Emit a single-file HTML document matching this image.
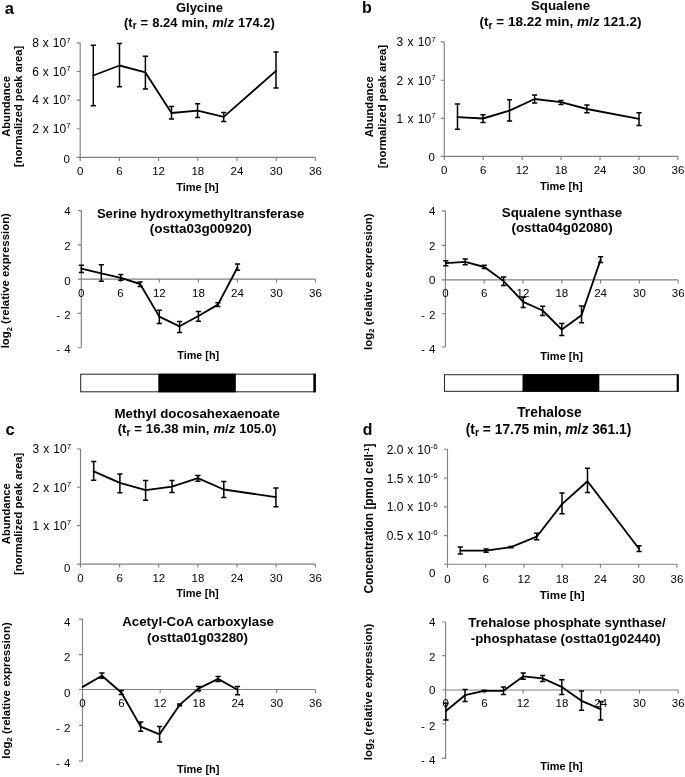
<!DOCTYPE html>
<html lang="en">
<head>
<meta charset="utf-8">
<title>Figure</title>
<style>
html,body{margin:0;padding:0;background:#fff;}
body{width:685px;height:777px;overflow:hidden;}
svg{display:block;filter:blur(0.35px);}
svg text{font-family:"Liberation Sans", Arial, sans-serif;fill:#000;}
</style>
</head>
<body>
<svg width="685" height="777" viewBox="0 0 685 777">
<rect width="685" height="777" fill="#fff"/>
<text x="4.8" y="13.8" font-size="16.5" font-weight="bold" text-anchor="start">a</text>
<text x="361.9" y="13.4" font-size="16" font-weight="bold" text-anchor="start">b</text>
<text x="5.4" y="434.8" font-size="16.5" font-weight="bold" text-anchor="start">c</text>
<text x="362.8" y="434.6" font-size="15.8" font-weight="bold" text-anchor="start">d</text>
<path d="M80.2 42.9V157.4M80.2 157.4H315.4M76.7 157.4H80.2M76.7 128.7H80.2M76.7 100.1H80.2M76.7 71.5H80.2M76.7 42.9H80.2M80.2 157.4V160.9M119.4 157.4V160.9M158.6 157.4V160.9M197.8 157.4V160.9M237 157.4V160.9M276.2 157.4V160.9M315.4 157.4V160.9" fill="none" stroke="#808080" stroke-width="1.15"/>
<text x="70.6" y="133" font-size="12" font-weight="normal" text-anchor="end" word-spacing="0.6">2 x 10<tspan font-size="8" dy="-4.6">7</tspan></text>
<text x="70.6" y="104.4" font-size="12" font-weight="normal" text-anchor="end" word-spacing="0.6">4 x 10<tspan font-size="8" dy="-4.6">7</tspan></text>
<text x="70.6" y="75.8" font-size="12" font-weight="normal" text-anchor="end" word-spacing="0.6">6 x 10<tspan font-size="8" dy="-4.6">7</tspan></text>
<text x="70.6" y="47.2" font-size="12" font-weight="normal" text-anchor="end" word-spacing="0.6">8 x 10<tspan font-size="8" dy="-4.6">7</tspan></text>
<text x="70" y="162.5" font-size="11.5" font-weight="normal" text-anchor="end">0</text>
<text x="80.2" y="175.2" font-size="11.5" font-weight="normal" text-anchor="middle">0</text>
<text x="119.4" y="175.2" font-size="11.5" font-weight="normal" text-anchor="middle">6</text>
<text x="158.6" y="175.2" font-size="11.5" font-weight="normal" text-anchor="middle">12</text>
<text x="197.8" y="175.2" font-size="11.5" font-weight="normal" text-anchor="middle">18</text>
<text x="237" y="175.2" font-size="11.5" font-weight="normal" text-anchor="middle">24</text>
<text x="276.2" y="175.2" font-size="11.5" font-weight="normal" text-anchor="middle">30</text>
<text x="315.4" y="175.2" font-size="11.5" font-weight="normal" text-anchor="middle">36</text>
<text x="197.5" y="190.8" font-size="11" font-weight="bold" text-anchor="middle">Time [h]</text>
<text x="199.4" y="11.7" font-size="13" font-weight="bold" text-anchor="middle">Glycine</text>
<text x="199.4" y="26.8" font-size="13" font-weight="bold" text-anchor="middle" word-spacing="0.4">(t<tspan font-size="10.0" dy="2.6">r</tspan><tspan dy="-2.6">&#8203;</tspan> = 8.24 min, <tspan font-style="italic">m</tspan>/<tspan font-style="italic">z</tspan> 174.2)</text>
<text transform="translate(10 106.4) rotate(-90)" font-size="11.2" font-weight="bold" text-anchor="middle">Abundance</text>
<text transform="translate(22 106.4) rotate(-90)" font-size="11.2" font-weight="bold" text-anchor="middle">[normalized peak area]</text>
<path d="M93.3 75.5 L119.5 65.5 L145.4 72.4 L171.5 113 L197.6 110.6 L223.7 116.9 L276 70.9" fill="none" stroke="#000" stroke-width="1.85" stroke-linejoin="round" stroke-linecap="round"/>
<path d="M93.3 45.2V105.8M90.7 45.2H95.9M90.7 105.8H95.9M119.5 43.5V86.7M116.9 43.5H122.1M116.9 86.7H122.1M145.4 56.3V89M142.8 56.3H148M142.8 89H148M171.5 106.5V119M168.9 106.5H174.1M168.9 119H174.1M197.6 103.8V117.5M195 103.8H200.2M195 117.5H200.2M223.7 112.4V121.4M221.1 112.4H226.3M221.1 121.4H226.3M276 52.1V88M273.4 52.1H278.6M273.4 88H278.6" fill="none" stroke="#000" stroke-width="1.5"/>
<path d="M444.3 41.9V156.4M444.3 156.4H677.9M440.8 156.4H444.3M440.8 118.4H444.3M440.8 80.2H444.3M440.8 41.9H444.3M444.3 156.4V159.9M483.23 156.4V159.9M522.17 156.4V159.9M561.1 156.4V159.9M600.03 156.4V159.9M638.97 156.4V159.9M677.9 156.4V159.9" fill="none" stroke="#808080" stroke-width="1.15"/>
<text x="435.7" y="122.7" font-size="12" font-weight="normal" text-anchor="end" word-spacing="1.0">1 x 10<tspan font-size="8" dy="-4.6">7</tspan></text>
<text x="435.7" y="84.5" font-size="12" font-weight="normal" text-anchor="end" word-spacing="1.0">2 x 10<tspan font-size="8" dy="-4.6">7</tspan></text>
<text x="435.7" y="46.2" font-size="12" font-weight="normal" text-anchor="end" word-spacing="1.0">3 x 10<tspan font-size="8" dy="-4.6">7</tspan></text>
<text x="434.9" y="161.4" font-size="11.5" font-weight="normal" text-anchor="end">0</text>
<text x="444.3" y="174.3" font-size="11.5" font-weight="normal" text-anchor="middle">0</text>
<text x="483.23" y="174.3" font-size="11.5" font-weight="normal" text-anchor="middle">6</text>
<text x="522.17" y="174.3" font-size="11.5" font-weight="normal" text-anchor="middle">12</text>
<text x="561.1" y="174.3" font-size="11.5" font-weight="normal" text-anchor="middle">18</text>
<text x="600.03" y="174.3" font-size="11.5" font-weight="normal" text-anchor="middle">24</text>
<text x="638.97" y="174.3" font-size="11.5" font-weight="normal" text-anchor="middle">30</text>
<text x="677.9" y="174.3" font-size="11.5" font-weight="normal" text-anchor="middle">36</text>
<text x="561.3" y="190.1" font-size="11" font-weight="bold" text-anchor="middle">Time [h]</text>
<text x="560.5" y="10.4" font-size="13.3" font-weight="bold" text-anchor="middle">Squalene</text>
<text x="560.5" y="26.2" font-size="13.5" font-weight="bold" text-anchor="middle">(t<tspan font-size="10.4" dy="2.6">r</tspan><tspan dy="-2.6">&#8203;</tspan> = 18.22 min, <tspan font-style="italic">m</tspan>/<tspan font-style="italic">z</tspan> 121.2)</text>
<text transform="translate(372.9 106.8) rotate(-90)" font-size="11.2" font-weight="bold" text-anchor="middle">Abundance</text>
<text transform="translate(385.5 106.6) rotate(-90)" font-size="11.4" font-weight="bold" text-anchor="middle">[normalized peak area]</text>
<path d="M457.5 117.1 L483 118.5 L509.5 110.7 L534.6 99 L561 102.2 L586.9 109 L639 118.8" fill="none" stroke="#000" stroke-width="1.85" stroke-linejoin="round" stroke-linecap="round"/>
<path d="M457.5 103.9V129.3M454.9 103.9H460.1M454.9 129.3H460.1M483 114.7V122.4M480.4 114.7H485.6M480.4 122.4H485.6M509.5 99.8V120.9M506.9 99.8H512.1M506.9 120.9H512.1M534.6 94.9V102.9M532 94.9H537.2M532 102.9H537.2M561 100.4V104.5M558.4 100.4H563.6M558.4 104.5H563.6M586.9 104.9V112.7M584.3 104.9H589.5M584.3 112.7H589.5M639 112.7V125.4M636.4 112.7H641.6M636.4 125.4H641.6" fill="none" stroke="#000" stroke-width="1.5"/>
<path d="M81.3 210.6V347.7M81.3 279.1H315.5M77.8 210.6H81.3M77.8 244.9H81.3M77.8 279.1H81.3M77.8 313.4H81.3M77.8 347.7H81.3M81.3 279.1V282.6M120.33 279.1V282.6M159.37 279.1V282.6M198.4 279.1V282.6M237.43 279.1V282.6M276.47 279.1V282.6M315.5 279.1V282.6" fill="none" stroke="#808080" stroke-width="1.15"/>
<text x="70.6" y="214.8" font-size="11.5" font-weight="normal" text-anchor="end" word-spacing="1.0">4</text>
<text x="70.6" y="249.7" font-size="11.5" font-weight="normal" text-anchor="end" word-spacing="1.0">2</text>
<text x="70.6" y="284.5" font-size="11.5" font-weight="normal" text-anchor="end" word-spacing="1.0">0</text>
<text x="70.6" y="318.7" font-size="11.5" font-weight="normal" text-anchor="end" word-spacing="1.0">- 2</text>
<text x="70.6" y="353" font-size="11.5" font-weight="normal" text-anchor="end" word-spacing="1.0">- 4</text>
<text x="81.3" y="296.6" font-size="11.5" font-weight="normal" text-anchor="middle">0</text>
<text x="120.33" y="296.6" font-size="11.5" font-weight="normal" text-anchor="middle">6</text>
<text x="159.37" y="296.6" font-size="11.5" font-weight="normal" text-anchor="middle">12</text>
<text x="198.4" y="296.6" font-size="11.5" font-weight="normal" text-anchor="middle">18</text>
<text x="237.43" y="296.6" font-size="11.5" font-weight="normal" text-anchor="middle">24</text>
<text x="276.47" y="296.6" font-size="11.5" font-weight="normal" text-anchor="middle">30</text>
<text x="315.5" y="296.6" font-size="11.5" font-weight="normal" text-anchor="middle">36</text>
<text x="198.2" y="359.3" font-size="10.8" font-weight="bold" text-anchor="middle">Time [h]</text>
<text x="200.6" y="217.9" font-size="13.1" font-weight="bold" text-anchor="middle">Serine hydroxymethyltransferase</text>
<text x="200.8" y="233" font-size="13.5" font-weight="bold" text-anchor="middle">(ostta03g00920)</text>
<text transform="translate(9.3 280.7) rotate(-90)" font-size="11.4" font-weight="bold" text-anchor="middle">log<tspan font-size="7.5" dy="2.5">2</tspan><tspan dy="-2.5">&#8203;</tspan> (relative expression)</text>
<path d="M81.4 268.7 L101.3 273.3 L120.8 277.8 L140.1 284 L159.3 316.6 L179.6 326.3 L198.4 316 L217.9 304.6 L237.5 267.5" fill="none" stroke="#000" stroke-width="1.85" stroke-linejoin="round" stroke-linecap="round"/>
<path d="M81.4 265.2V272.6M78.8 265.2H84M78.8 272.6H84M101.3 264.7V281.3M98.7 264.7H103.9M98.7 281.3H103.9M120.8 274.5V280.2M118.2 274.5H123.4M118.2 280.2H123.4M140.1 282V286.4M137.5 282H142.7M137.5 286.4H142.7M159.3 310.2V323.5M156.7 310.2H161.9M156.7 323.5H161.9M179.6 321.6V332.4M177 321.6H182.2M177 332.4H182.2M198.4 311.6V321.3M195.8 311.6H201M195.8 321.3H201M217.9 302.7V306.6M215.3 302.7H220.5M215.3 306.6H220.5M237.5 263.9V270.2M234.9 263.9H240.1M234.9 270.2H240.1" fill="none" stroke="#000" stroke-width="1.5"/>
<rect x="80.7" y="374.2" width="234.6" height="17.6" fill="#fff" stroke="#222" stroke-width="1"/>
<rect x="158.3" y="373.7" width="77.5" height="18.6" fill="#000"/>
<rect x="313.3" y="373.7" width="2.5" height="18.6" fill="#000"/>
<path d="M445.4 210.8V347M445.4 279.9H678.2M441.9 210.8H445.4M441.9 245.4H445.4M441.9 279.9H445.4M441.9 313.7H445.4M441.9 347H445.4M445.4 279.9V283.4M484.2 279.9V283.4M523 279.9V283.4M561.8 279.9V283.4M600.6 279.9V283.4M639.4 279.9V283.4M678.2 279.9V283.4" fill="none" stroke="#808080" stroke-width="1.15"/>
<text x="435.5" y="214.9" font-size="11.5" font-weight="normal" text-anchor="end" word-spacing="1.0">4</text>
<text x="435.5" y="250.4" font-size="11.5" font-weight="normal" text-anchor="end" word-spacing="1.0">2</text>
<text x="435.5" y="284.4" font-size="11.5" font-weight="normal" text-anchor="end" word-spacing="1.0">0</text>
<text x="435.5" y="319" font-size="11.5" font-weight="normal" text-anchor="end" word-spacing="1.0">- 2</text>
<text x="435.5" y="353.4" font-size="11.5" font-weight="normal" text-anchor="end" word-spacing="1.0">- 4</text>
<text x="445.4" y="296.7" font-size="11.5" font-weight="normal" text-anchor="middle">0</text>
<text x="484.2" y="296.7" font-size="11.5" font-weight="normal" text-anchor="middle">6</text>
<text x="523" y="296.7" font-size="11.5" font-weight="normal" text-anchor="middle">12</text>
<text x="561.8" y="296.7" font-size="11.5" font-weight="normal" text-anchor="middle">18</text>
<text x="600.6" y="296.7" font-size="11.5" font-weight="normal" text-anchor="middle">24</text>
<text x="639.4" y="296.7" font-size="11.5" font-weight="normal" text-anchor="middle">30</text>
<text x="678.2" y="296.7" font-size="11.5" font-weight="normal" text-anchor="middle">36</text>
<text x="561.6" y="360" font-size="11" font-weight="bold" text-anchor="middle">Time [h]</text>
<text x="562" y="216.9" font-size="13.3" font-weight="bold" text-anchor="middle">Squalene synthase</text>
<text x="562.1" y="232" font-size="13.4" font-weight="bold" text-anchor="middle">(ostta04g02080)</text>
<text transform="translate(371.8 281.7) rotate(-90)" font-size="11.5" font-weight="bold" text-anchor="middle">log<tspan font-size="7.5" dy="2.5">2</tspan><tspan dy="-2.5">&#8203;</tspan> (relative expression)</text>
<path d="M445.8 263.1 L465.2 261.9 L484.3 267 L503.6 281.1 L523.2 301.9 L542.6 310.5 L561.8 329.6 L581.5 315.2 L600.6 259.7" fill="none" stroke="#000" stroke-width="1.85" stroke-linejoin="round" stroke-linecap="round"/>
<path d="M445.8 260.7V265.8M443.2 260.7H448.4M443.2 265.8H448.4M465.2 259V264.8M462.6 259H467.8M462.6 264.8H467.8M484.3 265.3V268.6M481.7 265.3H486.9M481.7 268.6H486.9M503.6 277.1V285.5M501 277.1H506.2M501 285.5H506.2M523.2 297.2V307.4M520.6 297.2H525.8M520.6 307.4H525.8M542.6 306.3V315.5M540 306.3H545.2M540 315.5H545.2M561.8 323.5V335.4M559.2 323.5H564.4M559.2 335.4H564.4M581.5 306V322.7M578.9 306H584.1M578.9 322.7H584.1M600.6 256.7V262.5M598 256.7H603.2M598 262.5H603.2" fill="none" stroke="#000" stroke-width="1.5"/>
<rect x="444.5" y="374.7" width="233.7" height="16.6" fill="#fff" stroke="#222" stroke-width="1"/>
<rect x="522.5" y="374.2" width="76.8" height="17.6" fill="#000"/>
<rect x="676.7" y="374.2" width="2" height="17.6" fill="#000"/>
<path d="M80.5 449V564.1M80.5 564.1H315.4M77 564.1H80.5M77 525.6H80.5M77 487.2H80.5M77 449H80.5M80.5 564.1V567.6M119.65 564.1V567.6M158.8 564.1V567.6M197.95 564.1V567.6M237.1 564.1V567.6M276.25 564.1V567.6M315.4 564.1V567.6" fill="none" stroke="#808080" stroke-width="1.15"/>
<text x="71.1" y="529.9" font-size="12" font-weight="normal" text-anchor="end" word-spacing="0.7">1 x 10<tspan font-size="8" dy="-4.6">7</tspan></text>
<text x="71.1" y="491.5" font-size="12" font-weight="normal" text-anchor="end" word-spacing="0.7">2 x 10<tspan font-size="8" dy="-4.6">7</tspan></text>
<text x="71.1" y="453.3" font-size="12" font-weight="normal" text-anchor="end" word-spacing="0.7">3 x 10<tspan font-size="8" dy="-4.6">7</tspan></text>
<text x="70.3" y="572.3" font-size="11.5" font-weight="normal" text-anchor="end">0</text>
<text x="80.5" y="581.6" font-size="11.5" font-weight="normal" text-anchor="middle">0</text>
<text x="119.65" y="581.6" font-size="11.5" font-weight="normal" text-anchor="middle">6</text>
<text x="158.8" y="581.6" font-size="11.5" font-weight="normal" text-anchor="middle">12</text>
<text x="197.95" y="581.6" font-size="11.5" font-weight="normal" text-anchor="middle">18</text>
<text x="237.1" y="581.6" font-size="11.5" font-weight="normal" text-anchor="middle">24</text>
<text x="276.25" y="581.6" font-size="11.5" font-weight="normal" text-anchor="middle">30</text>
<text x="315.4" y="581.6" font-size="11.5" font-weight="normal" text-anchor="middle">36</text>
<text x="197.5" y="596.7" font-size="11" font-weight="bold" text-anchor="middle">Time [h]</text>
<text x="197.2" y="417.7" font-size="13.3" font-weight="bold" text-anchor="middle">Methyl docosahexaenoate</text>
<text x="197" y="433.4" font-size="13.1" font-weight="bold" text-anchor="middle" word-spacing="0.3">(t<tspan font-size="10.1" dy="2.6">r</tspan><tspan dy="-2.6">&#8203;</tspan> = 16.38 min, <tspan font-style="italic">m</tspan>/<tspan font-style="italic">z</tspan> 105.0)</text>
<text transform="translate(10 513.7) rotate(-90)" font-size="11.2" font-weight="bold" text-anchor="middle">Abundance</text>
<text transform="translate(22 513.9) rotate(-90)" font-size="11.3" font-weight="bold" text-anchor="middle">[normalized peak area]</text>
<path d="M93.7 471.3 L119.9 482.9 L145.6 490.1 L172 486.6 L197.9 478.2 L223.8 489.5 L275.9 497.2" fill="none" stroke="#000" stroke-width="1.85" stroke-linejoin="round" stroke-linecap="round"/>
<path d="M93.7 461.5V480.3M91.1 461.5H96.3M91.1 480.3H96.3M119.9 474.1V492.7M117.3 474.1H122.5M117.3 492.7H122.5M145.6 480.5V500.3M143 480.5H148.2M143 500.3H148.2M172 480.5V492.5M169.4 480.5H174.6M169.4 492.5H174.6M197.9 475.6V481.2M195.3 475.6H200.5M195.3 481.2H200.5M223.8 481.5V497.6M221.2 481.5H226.4M221.2 497.6H226.4M275.9 488V506.8M273.3 488H278.5M273.3 506.8H278.5" fill="none" stroke="#000" stroke-width="1.5"/>
<path d="M447.5 449.2V564.2M447.5 564.2H676.9M444 564.2H447.5M444 535.6H447.5M444 506.9H447.5M444 478.2H447.5M444 449.2H447.5M447.5 564.2V567.7M485.73 564.2V567.7M523.97 564.2V567.7M562.2 564.2V567.7M600.43 564.2V567.7M638.67 564.2V567.7M676.9 564.2V567.7" fill="none" stroke="#808080" stroke-width="1.15"/>
<text x="437.7" y="539.9" font-size="12" font-weight="normal" text-anchor="end" word-spacing="0.6">0.5 x 10<tspan font-size="8" dy="-4.6">-6</tspan></text>
<text x="437.7" y="511.2" font-size="12" font-weight="normal" text-anchor="end" word-spacing="0.6">1.0 x 10<tspan font-size="8" dy="-4.6">-6</tspan></text>
<text x="437.7" y="482.5" font-size="12" font-weight="normal" text-anchor="end" word-spacing="0.6">1.5 x 10<tspan font-size="8" dy="-4.6">-6</tspan></text>
<text x="437.7" y="453.5" font-size="12" font-weight="normal" text-anchor="end" word-spacing="0.6">2.0 x 10<tspan font-size="8" dy="-4.6">-6</tspan></text>
<text x="435.5" y="576.6" font-size="11.5" font-weight="normal" text-anchor="end">0</text>
<text x="447.5" y="582.6" font-size="11.5" font-weight="normal" text-anchor="middle">0</text>
<text x="485.73" y="582.6" font-size="11.5" font-weight="normal" text-anchor="middle">6</text>
<text x="523.97" y="582.6" font-size="11.5" font-weight="normal" text-anchor="middle">12</text>
<text x="562.2" y="582.6" font-size="11.5" font-weight="normal" text-anchor="middle">18</text>
<text x="600.43" y="582.6" font-size="11.5" font-weight="normal" text-anchor="middle">24</text>
<text x="638.67" y="582.6" font-size="11.5" font-weight="normal" text-anchor="middle">30</text>
<text x="676.9" y="582.6" font-size="11.5" font-weight="normal" text-anchor="middle">36</text>
<text x="562.2" y="598.7" font-size="11.6" font-weight="bold" text-anchor="middle">Time [h]</text>
<text x="549.4" y="416.6" font-size="13.8" font-weight="bold" text-anchor="middle">Trehalose</text>
<text x="548.5" y="433.6" font-size="13.8" font-weight="bold" text-anchor="middle">(t<tspan font-size="10.6" dy="2.6">r</tspan><tspan dy="-2.6">&#8203;</tspan> = 17.75 min, <tspan font-style="italic">m</tspan>/<tspan font-style="italic">z</tspan> 361.1)</text>
<text transform="translate(373.1 518.5) rotate(-90)" font-size="11.9" font-weight="bold" text-anchor="middle">Concentration [pmol cell<tspan font-size="7.5" dy="-4.2">-1</tspan><tspan dy="4.2">]</tspan></text>
<path d="M460.3 550.6 L486.1 550.6 L511 547.2 L536.7 536.7 L562 504.1 L587.5 481.2 L639 548.7" fill="none" stroke="#000" stroke-width="1.85" stroke-linejoin="round" stroke-linecap="round"/>
<path d="M460.3 547.1V553.9M457.7 547.1H462.9M457.7 553.9H462.9M486.1 548.9V552.3M483.5 548.9H488.7M483.5 552.3H488.7M511 546.6V547.8M508.4 546.6H513.6M508.4 547.8H513.6M536.7 533.3V539.7M534.1 533.3H539.3M534.1 539.7H539.3M562 492.9V513.8M559.4 492.9H564.6M559.4 513.8H564.6M587.5 468.3V492.6M584.9 468.3H590.1M584.9 492.6H590.1M639 545.7V551.4M636.4 545.7H641.6M636.4 551.4H641.6" fill="none" stroke="#000" stroke-width="1.5"/>
<path d="M82.5 619.1V761.1M82.5 689.5H315.5M79 619.1H82.5M79 654.6H82.5M79 689.5H82.5M79 725.3H82.5M79 761.1H82.5M82.5 689.5V693M121.33 689.5V693M160.17 689.5V693M199 689.5V693M237.83 689.5V693M276.67 689.5V693M315.5 689.5V693" fill="none" stroke="#808080" stroke-width="1.15"/>
<text x="70.3" y="625.6" font-size="11.5" font-weight="normal" text-anchor="end" word-spacing="1.0">4</text>
<text x="70.3" y="661.4" font-size="11.5" font-weight="normal" text-anchor="end" word-spacing="1.0">2</text>
<text x="70.3" y="696.6" font-size="11.5" font-weight="normal" text-anchor="end" word-spacing="1.0">0</text>
<text x="70.3" y="732.2" font-size="11.5" font-weight="normal" text-anchor="end" word-spacing="1.0">- 2</text>
<text x="70.3" y="767.2" font-size="11.5" font-weight="normal" text-anchor="end" word-spacing="1.0">- 4</text>
<text x="82.5" y="707.1" font-size="11.5" font-weight="normal" text-anchor="middle">0</text>
<text x="121.33" y="707.1" font-size="11.5" font-weight="normal" text-anchor="middle">6</text>
<text x="160.17" y="707.1" font-size="11.5" font-weight="normal" text-anchor="middle">12</text>
<text x="199" y="707.1" font-size="11.5" font-weight="normal" text-anchor="middle">18</text>
<text x="237.83" y="707.1" font-size="11.5" font-weight="normal" text-anchor="middle">24</text>
<text x="276.67" y="707.1" font-size="11.5" font-weight="normal" text-anchor="middle">30</text>
<text x="315.5" y="707.1" font-size="11.5" font-weight="normal" text-anchor="middle">36</text>
<text x="198.2" y="773.2" font-size="11" font-weight="bold" text-anchor="middle">Time [h]</text>
<text x="198.1" y="625.6" font-size="13.3" font-weight="bold" text-anchor="middle">Acetyl-CoA carboxylase</text>
<text x="197.5" y="641.6" font-size="13.35" font-weight="bold" text-anchor="middle">(ostta01g03280)</text>
<text transform="translate(9.5 690.5) rotate(-90)" font-size="11.5" font-weight="bold" text-anchor="middle">log<tspan font-size="7.5" dy="2.5">2</tspan><tspan dy="-2.5">&#8203;</tspan> (relative expression)</text>
<path d="M82.7 686.9 L101.9 675.8 L121.3 692.5 L140.7 726.6 L159.6 734.3 L179.6 704.9 L198.4 688.6 L218.1 678.9 L237.5 689.7" fill="none" stroke="#000" stroke-width="1.85" stroke-linejoin="round" stroke-linecap="round"/>
<path d="M101.9 673V678.3M99.3 673H104.5M99.3 678.3H104.5M121.3 690.5V694.4M118.7 690.5H123.9M118.7 694.4H123.9M140.7 721.9V731.3M138.1 721.9H143.3M138.1 731.3H143.3M159.6 726.6V742.1M157 726.6H162.2M157 742.1H162.2M179.6 704V705.8M177 704H182.2M177 705.8H182.2M198.4 686.4V690.8M195.8 686.4H201M195.8 690.8H201M218.1 676.6V681.4M215.5 676.6H220.7M215.5 681.4H220.7M237.5 686.4V694.7M234.9 686.4H240.1M234.9 694.7H240.1" fill="none" stroke="#000" stroke-width="1.5"/>
<path d="M445.6 622V758.4M445.6 690H678.2M442.1 622H445.6M442.1 655.6H445.6M442.1 690H445.6M442.1 724H445.6M442.1 758.4H445.6M445.6 690V693.5M484.37 690V693.5M523.13 690V693.5M561.9 690V693.5M600.67 690V693.5M639.43 690V693.5M678.2 690V693.5" fill="none" stroke="#808080" stroke-width="1.15"/>
<text x="435.5" y="626" font-size="11.5" font-weight="normal" text-anchor="end" word-spacing="1.0">4</text>
<text x="435.5" y="660.9" font-size="11.5" font-weight="normal" text-anchor="end" word-spacing="1.0">2</text>
<text x="435.5" y="694.4" font-size="11.5" font-weight="normal" text-anchor="end" word-spacing="1.0">0</text>
<text x="435.5" y="729.7" font-size="11.5" font-weight="normal" text-anchor="end" word-spacing="1.0">- 2</text>
<text x="435.5" y="763.7" font-size="11.5" font-weight="normal" text-anchor="end" word-spacing="1.0">- 4</text>
<text x="445.6" y="706.8" font-size="11.5" font-weight="normal" text-anchor="middle">0</text>
<text x="484.37" y="706.8" font-size="11.5" font-weight="normal" text-anchor="middle">6</text>
<text x="523.13" y="706.8" font-size="11.5" font-weight="normal" text-anchor="middle">12</text>
<text x="561.9" y="706.8" font-size="11.5" font-weight="normal" text-anchor="middle">18</text>
<text x="600.67" y="706.8" font-size="11.5" font-weight="normal" text-anchor="middle">24</text>
<text x="639.43" y="706.8" font-size="11.5" font-weight="normal" text-anchor="middle">30</text>
<text x="678.2" y="706.8" font-size="11.5" font-weight="normal" text-anchor="middle">36</text>
<text x="561.5" y="769.8" font-size="11" font-weight="bold" text-anchor="middle">Time [h]</text>
<text x="567" y="627.3" font-size="13.25" font-weight="bold" text-anchor="middle">Trehalose phosphate synthase/</text>
<text x="565.8" y="642.8" font-size="13.25" font-weight="bold" text-anchor="middle">-phosphatase (ostta01g02440)</text>
<text transform="translate(371.6 691.9) rotate(-90)" font-size="11.5" font-weight="bold" text-anchor="middle">log<tspan font-size="7.5" dy="2.5">2</tspan><tspan dy="-2.5">&#8203;</tspan> (relative expression)</text>
<path d="M445.9 711 L465 695.2 L484.1 690.8 L503.5 690.8 L523.2 676.4 L542.6 678.3 L561.8 686.9 L581.5 700.8 L600.6 709.1" fill="none" stroke="#000" stroke-width="1.85" stroke-linejoin="round" stroke-linecap="round"/>
<path d="M445.9 703.3V720M443.3 703.3H448.5M443.3 720H448.5M465 689.4V701.4M462.4 689.4H467.6M462.4 701.4H467.6M484.1 690.2V691.4M481.5 690.2H486.7M481.5 691.4H486.7M503.5 686.9V694.4M500.9 686.9H506.1M500.9 694.4H506.1M523.2 673V679.2M520.6 673H525.8M520.6 679.2H525.8M542.6 675.5V681.4M540 675.5H545.2M540 681.4H545.2M561.8 679.7V694.4M559.2 679.7H564.4M559.2 694.4H564.4M581.5 691.1V710.3M578.9 691.1H584.1M578.9 710.3H584.1M600.6 701.4V720M598 701.4H603.2M598 720H603.2" fill="none" stroke="#000" stroke-width="1.5"/>
</svg>
</body>
</html>
